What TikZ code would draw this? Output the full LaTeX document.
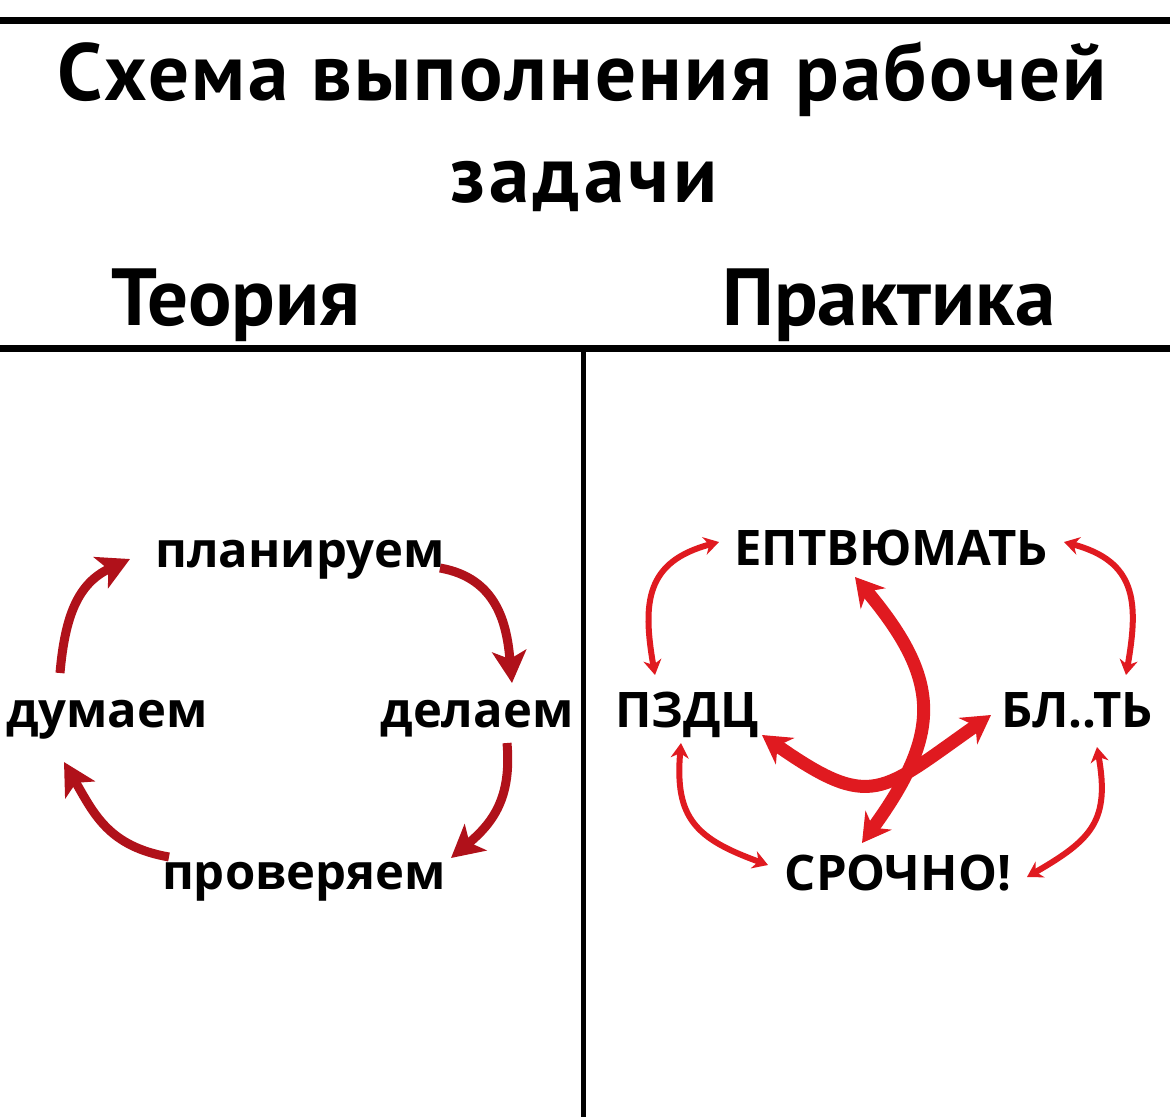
\documentclass[tikz,border=0pt]{standalone}
\usepackage{fontspec}
\usepackage{tikz}
\usetikzlibrary{arrows.meta,positioning}

\newfontfamily\headfont{PT Sans}
\newfontfamily\wordfont{Open Sans}
\definecolor{cyclered}{HTML}{B0111A}
\definecolor{panicred}{HTML}{E01A20}

\begin{document}
\begin{tikzpicture}[x=1pt,y=-1pt,on grid,
                    head/.style={font=\headfont\bfseries\fontsize{81}{90}\selectfont,inner sep=0pt,anchor=base},
                    word/.style={font=\wordfont\bfseries\fontsize{49}{55}\selectfont,inner sep=0pt,
                                 text height=26pt,text depth=0pt},
                    loop/.style={->,cyclered,line width=9pt,looseness=1.1,
                                 >={Stealth[width=34pt,length=32pt,inset=8pt]}},
                    mess/.style={<->,panicred,line width=6pt,looseness=1.3,
                                 >={Stealth[width=18pt,length=15pt]}},
                    chaos/.style={<->,panicred,line width=13pt,
                                  >={Stealth[width=32pt,length=28pt]}}]
  \fill[white] (0,0) rectangle (1170,1117);
  \useasboundingbox (0,0) rectangle (1170,1117);

  % frame
  \draw[line width=7pt] (0,20.5) -- (1170,20.5);
  \draw[line width=7pt] (0,348) -- (1170,348);
  \draw[line width=5pt] (583,348) -- (583,1117);

  \node[head] (title)    at (582,100) {\addfontfeatures{LetterSpace=3}Схема выполнения рабочей};
  \node[head] (task)     at (584,202) {\addfontfeatures{LetterSpace=5}задачи};
  \node[head] (theory)   at (236,325) {Теория};
  \node[head] (practice) at (889,325) {Практика};

  % theory
  \node[word] (plan)                                           at (300,554) {планируем};
  \node[word] (think) [below left=160pt and 193pt of plan]     {думаем};
  \node[word] (act)   [below right=160pt and 177pt of plan]    {делаем};
  \node[word] (check) [below left=162pt and 173pt of act]      {проверяем};

  % practice
  \node[word] (oops)                                           at (891,552) {ЕПТВЮМАТЬ};
  \node[word] (fail)  [below left=162pt and 204pt of oops]     {ПЗДЦ};
  \node[word] (damn)  [below right=162pt and 186pt of oops]    {БЛ..ТЬ};
  \node[word] (rush)  [below right=163pt and 211pt of fail]    {СРОЧНО!};

  \path[loop] ([xshift=-47pt,yshift=41pt]think.center) edge[out=85,in=205]   ([xshift=-170pt,yshift=-5pt]plan.center)
              ([xshift=140pt,yshift=-14pt]plan.center) edge[out=-10,in=95]   ([xshift=35pt,yshift=31pt]act.center)
              ([xshift=30pt,yshift=-29pt]act.center)   edge[out=-85,in=40]   ([xshift=147pt,yshift=18pt]check.center)
              ([xshift=-135pt,yshift=19pt]check.center) edge[out=170,in=-60] ([xshift=-43pt,yshift=-48pt]think.center);

  \path[mess] ([xshift=-32pt,yshift=39pt]fail.center) edge[out=100,in=195]  ([xshift=-172pt,yshift=10pt]oops.center)
              ([xshift=173pt,yshift=10pt]oops.center) edge[out=-15,in=80]   ([xshift=49pt,yshift=39pt]damn.center)
              ([xshift=-6pt,yshift=-29pt]fail.center) edge[out=-95,in=160]  ([xshift=-130pt,yshift=12pt]rush.center)
              ([xshift=20pt,yshift=-33pt]damn.center) edge[out=-80,in=30]   ([xshift=129pt]rush.center);

  \path[chaos] ([xshift=-36pt,yshift=-25pt]oops.center) edge[out=-50,in=54,looseness=1.3]    ([xshift=-36pt,yshift=34pt]rush.center)
               ([xshift=75pt,yshift=-21pt]fail.center)  edge[out=-35,in=-145,looseness=1.5]  ([xshift=-86pt,yshift=-1pt]damn.center);
\end{tikzpicture}
\end{document}
